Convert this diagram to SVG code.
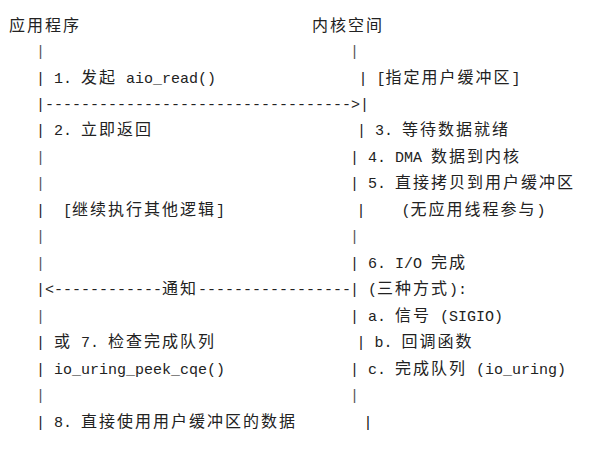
<svg xmlns="http://www.w3.org/2000/svg" width="601" height="453" viewBox="0 0 601 453">
<style>
text{font-family:"Liberation Mono","Noto Sans CJK SC",monospace;font-size:15px;fill:#222;white-space:pre}
.c{font-family:"Noto Sans CJK SC","Liberation Mono",sans-serif;font-size:16px;letter-spacing:2px}
.bar{fill:#555}
.thin{font-family:"Liberation Sans",sans-serif;fill:#111}
</style>
<rect width="601" height="453" fill="#fff"/>
<g id="app">
<text x="9" y="31"><tspan class="c">应用程序</tspan></text>
<text class="bar" x="36" y="56">|</text>
<text x="36" y="83">| 1. <tspan class="c">发起</tspan> aio_read()</text>
<text x="36" y="135">| 2. <tspan class="c">立即返回</tspan></text>
<text class="bar" x="36" y="162">|</text>
<text class="bar" x="36" y="188">|</text>
<text x="36" y="215">|  [<tspan class="c">继续执行其他逻辑</tspan>]</text>
<text class="bar" x="36" y="241">|</text>
<text class="bar" x="36" y="268">|</text>
<text class="bar" x="36" y="321">|</text>
<text x="36" y="347">| <tspan class="c">或</tspan> 7. <tspan class="c">检查完成队列</tspan></text>
<text x="36" y="374">| io_uring_peek_cqe()</text>
<text class="bar" x="36" y="400">|</text>
<text x="36" y="427">| 8. <tspan class="c">直接使用用户缓冲区的数据</tspan></text>
</g>
<g id="kernel">
<text x="312" y="31"><tspan class="c">内核空间</tspan></text>
<text class="bar" x="350" y="56">|</text>
<text x="358.5" y="83">| [<tspan class="c">指定用户缓冲区</tspan>]</text>
<text x="357" y="135">| 3. <tspan class="c">等待数据就绪</tspan></text>
<text x="350" y="162">| 4. DMA <tspan class="c">数据到内核</tspan></text>
<text x="350" y="188">| 5. <tspan class="c">直接拷贝到用户缓冲区</tspan></text>
<text x="356.5" y="215">|    (<tspan class="c">无应用线程参与</tspan>)</text>
<text class="bar" x="350" y="241">|</text>
<text x="350" y="268">| 6. I/O <tspan class="c">完成</tspan></text>
<text x="350" y="294">| (<tspan class="c">三种方式</tspan>):</text>
<text x="350" y="321">| a. <tspan class="c">信号</tspan> (SIGIO)</text>
<text x="356.5" y="347">| b. <tspan class="c">回调函数</tspan></text>
<text x="350" y="374">| c. <tspan class="c">完成队列</tspan> (io_uring)</text>
<text class="bar" x="350" y="400">|</text>
<text class="thin" x="366" y="427">|</text>
</g>
<g id="connectors">
<text x="36" y="109" textLength="333" lengthAdjust="spacing">|---------------------------------->|</text>
<text x="36" y="294">|&lt;------------<tspan class="c">通知</tspan>-----------------</text>
</g>
</svg>
